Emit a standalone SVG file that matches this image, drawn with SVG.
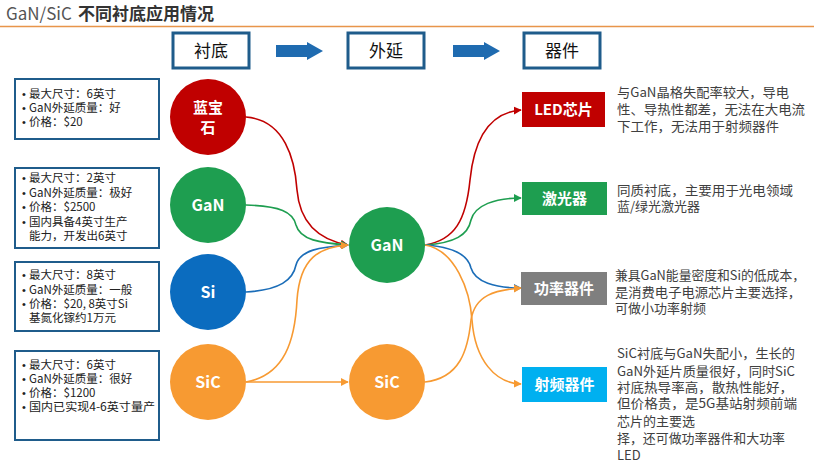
<svg xmlns="http://www.w3.org/2000/svg" width="814" height="463" viewBox="0 0 814 463">
<style>
text{font-family:"Noto Sans CJK SC","Liberation Sans",sans-serif;}
.hdr{fill:#fff;stroke:#1F5C8B;stroke-width:3;}
.hdrt{font-size:17px;fill:#111;text-anchor:middle;}
.info{fill:#fff;stroke:#1F5C8B;stroke-width:2;}
.it{font-size:11.5px;fill:#222;}
.bu{font-size:11px;fill:#222;font-family:"Liberation Sans",sans-serif;}
.ct{font-size:16px;font-weight:bold;fill:#fff;text-anchor:middle;}
.bt{font-size:15px;font-weight:bold;fill:#fff;text-anchor:middle;}
.dt{font-size:13px;fill:#404040;}
.c{fill:none;stroke-width:1.6;}
</style>
<defs>
<marker id="aR" viewBox="0 0 10 10" refX="9" refY="5" markerWidth="8" markerHeight="8" markerUnits="userSpaceOnUse" orient="auto"><path d="M0,0L10,5L0,10z" fill="#C00000"/></marker>
<marker id="aG" viewBox="0 0 10 10" refX="9" refY="5" markerWidth="8" markerHeight="8" markerUnits="userSpaceOnUse" orient="auto"><path d="M0,0L10,5L0,10z" fill="#1E9E50"/></marker>
<marker id="aB" viewBox="0 0 10 10" refX="9" refY="5" markerWidth="8" markerHeight="8" markerUnits="userSpaceOnUse" orient="auto"><path d="M0,0L10,5L0,10z" fill="#1B6DB8"/></marker>
<marker id="aO" viewBox="0 0 10 10" refX="9" refY="5" markerWidth="8" markerHeight="8" markerUnits="userSpaceOnUse" orient="auto"><path d="M0,0L10,5L0,10z" fill="#F79A32"/></marker>
</defs>
<rect width="814" height="463" fill="#fff"/>
<g id="title">
<text x="6" y="20" style="font-size:17px;fill:#555;">GaN/SiC</text>
<text x="78" y="20" style="font-size:17px;font-weight:bold;fill:#333;">不同衬底应用情况</text>
<line x1="0" y1="26.5" x2="814" y2="26.5" stroke="#E8954A" stroke-width="1.5"/>
</g>
<g id="header">
<rect class="hdr" x="173" y="33" width="76" height="35"/>
<text class="hdrt" x="211" y="56.5">衬底</text>
<rect class="hdr" x="348" y="33" width="76" height="35"/>
<text class="hdrt" x="386" y="56.5">外延</text>
<rect class="hdr" x="524" y="33" width="76" height="35"/>
<text class="hdrt" x="562" y="56.5">器件</text>
<path d="M276,45H307V42L323,51L307,60V57H276z" fill="#1F6BB0"/>
<path d="M453,45H484V42L500,51L484,60V57H453z" fill="#1F6BB0"/>
</g>
<g id="info-sapphire">
<rect class="info" x="15" y="79" width="144" height="60"/>
<text class="bu" x="22" y="98">•</text><text class="it" x="29" y="98">最大尺寸：6英寸</text>
<text class="bu" x="22" y="112">•</text><text class="it" x="29" y="112">GaN外延质量：好</text>
<text class="bu" x="22" y="126">•</text><text class="it" x="29" y="126">价格：$20</text>
</g>
<g id="info-gan">
<rect class="info" x="15" y="168" width="144" height="80"/>
<text class="bu" x="22" y="182">•</text><text class="it" x="29" y="182">最大尺寸：2英寸</text>
<text class="bu" x="22" y="197">•</text><text class="it" x="29" y="197">GaN外延质量：极好</text>
<text class="bu" x="22" y="211">•</text><text class="it" x="29" y="211">价格：$2500</text>
<text class="bu" x="22" y="226">•</text><text class="it" x="29" y="226">国内具备4英寸生产</text>
<text class="it" x="29" y="240">能力，开发出6英寸</text>
</g>
<g id="info-si">
<rect class="info" x="15" y="262" width="144" height="69"/>
<text class="bu" x="22" y="279">•</text><text class="it" x="29" y="279">最大尺寸：8英寸</text>
<text class="bu" x="22" y="294">•</text><text class="it" x="29" y="294">GaN外延质量：一般</text>
<text class="bu" x="22" y="308">•</text><text class="it" x="29" y="308">价格：$20, 8英寸Si</text>
<text class="it" x="29" y="322">基氮化镓约1万元</text>
</g>
<g id="info-sic">
<rect class="info" x="15" y="351" width="144" height="89"/>
<text class="bu" x="22" y="369">•</text><text class="it" x="29" y="369">最大尺寸：6英寸</text>
<text class="bu" x="22" y="383">•</text><text class="it" x="29" y="383">GaN外延质量：很好</text>
<text class="bu" x="22" y="397">•</text><text class="it" x="29" y="397">价格：$1200</text>
<text class="bu" x="22" y="411">•</text><text class="it" x="29" y="411" textLength="126" lengthAdjust="spacingAndGlyphs">国内已实现4-6英寸量产</text>
</g>
<g id="connectors">
<path class="c" stroke="#C00000" marker-end="url(#aR)" d="M246,117C285,120 295,160 297,190C300,225 320,240 348,245"/>
<path class="c" stroke="#1E9E50" marker-end="url(#aG)" d="M246,205C280,206 293,212 296,225C300,240 320,243 348,245"/>
<path class="c" stroke="#1B6DB8" marker-end="url(#aB)" d="M246,292C280,290 293,280 296,265C300,250 320,247 348,245"/>
<path class="c" stroke="#F79A32" marker-end="url(#aO)" d="M246,382C285,375 295,340 297,300C300,257 320,247 348,245"/>
<path class="c" stroke="#F79A32" marker-end="url(#aO)" d="M246,382H348"/>
<path class="c" stroke="#C00000" marker-end="url(#aR)" d="M425,245C455,240 466,220 470,180C475,130 495,112 521,110"/>
<path class="c" stroke="#1E9E50" marker-end="url(#aG)" d="M425,245C455,243 468,235 471,220C475,205 495,198 521,198"/>
<path class="c" stroke="#1B6DB8" marker-end="url(#aB)" d="M425,245C455,247 468,255 471,268C475,282 495,288 521,288"/>
<path class="c" stroke="#F79A32" marker-end="url(#aO)" d="M425,245C455,250 470,290 472,320C475,360 495,383 521,384"/>
<path class="c" stroke="#F79A32" marker-end="url(#aO)" d="M425,382C460,378 468,350 471,320C475,295 495,290 521,288"/>
</g>
<g id="node-sapphire">
<circle cx="208" cy="117" r="38" fill="#C00000"/>
<text class="ct" x="208" y="113" style="font-size:15px">蓝宝</text>
<text class="ct" x="208" y="133" style="font-size:15px">石</text>
</g>
<g id="node-gan-sub">
<circle cx="208" cy="205" r="38" fill="#1E9E50"/>
<text class="ct" x="208" y="211">GaN</text>
</g>
<g id="node-si">
<circle cx="208" cy="292" r="38" fill="#0B6CBF"/>
<text class="ct" x="208" y="298">Si</text>
</g>
<g id="node-sic-sub">
<circle cx="208" cy="382" r="38" fill="#F79A32"/>
<text class="ct" x="208" y="388">SiC</text>
</g>
<g id="node-gan-epi">
<circle cx="387" cy="245" r="38" fill="#1E9E50"/>
<text class="ct" x="387" y="251">GaN</text>
</g>
<g id="node-sic-epi">
<circle cx="387" cy="382" r="38" fill="#F79A32"/>
<text class="ct" x="387" y="388">SiC</text>
</g>
<g id="node-led">
<rect x="522" y="92" width="83" height="35" fill="#C00000"/>
<text class="bt" x="563.5" y="115">LED芯片</text>
<text class="dt" x="617" y="97" textLength="172" lengthAdjust="spacingAndGlyphs">与GaN晶格失配率较大，导电</text>
<text class="dt" x="617" y="114" textLength="188" lengthAdjust="spacingAndGlyphs">性、导热性都差，无法在大电流</text>
<text class="dt" x="617" y="131" textLength="162" lengthAdjust="spacingAndGlyphs">下工作，无法用于射频器件</text>
</g>
<g id="node-laser">
<rect x="522" y="182" width="85" height="33" fill="#1E9E50"/>
<text class="bt" x="564.5" y="204">激光器</text>
<text class="dt" x="617" y="195" textLength="176" lengthAdjust="spacingAndGlyphs">同质衬底，主要用于光电领域</text>
<text class="dt" x="617" y="211">蓝/绿光激光器</text>
</g>
<g id="node-power">
<rect x="521" y="272" width="86" height="33" fill="#7F7F7F"/>
<text class="bt" x="564" y="294">功率器件</text>
<text class="dt" x="615" y="280" textLength="190" lengthAdjust="spacingAndGlyphs">兼具GaN能量密度和Si的低成本，</text>
<text class="dt" x="615" y="297" textLength="186" lengthAdjust="spacingAndGlyphs">是消费电子电源芯片主要选择，</text>
<text class="dt" x="615" y="313">可做小功率射频</text>
</g>
<g id="node-rf">
<rect x="522" y="367" width="85" height="35" fill="#00B0F0"/>
<text class="bt" x="564.5" y="390">射频器件</text>
<text class="dt" x="617" y="358" textLength="178" lengthAdjust="spacingAndGlyphs">SiC衬底与GaN失配小，生长的</text>
<text class="dt" x="617" y="376" textLength="178" lengthAdjust="spacingAndGlyphs">GaN外延片质量很好，同时SiC</text>
<text class="dt" x="617" y="392" textLength="176" lengthAdjust="spacingAndGlyphs">衬底热导率高，散热性能好，</text>
<text class="dt" x="617" y="408" textLength="180" lengthAdjust="spacingAndGlyphs">但价格贵，是5G基站射频前端</text>
<text class="dt" x="617" y="426">芯片的主要选</text>
<text class="dt" x="617" y="443" textLength="168" lengthAdjust="spacingAndGlyphs">择，还可做功率器件和大功率</text>
<text class="dt" x="617" y="460">LED</text>
</g>
</svg>
